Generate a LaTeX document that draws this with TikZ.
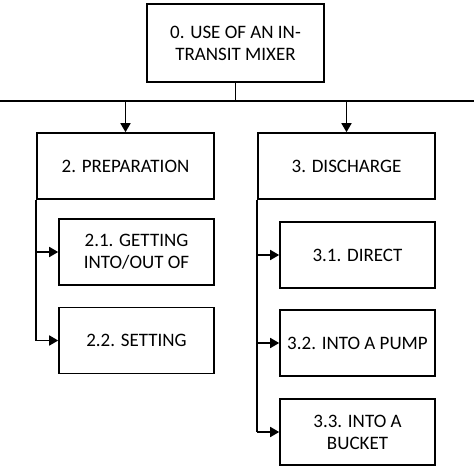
\documentclass[tikz,border=0pt]{standalone}
\usepackage{fontspec}
\setmainfont{Carlito}
\usetikzlibrary{arrows.meta}
\tikzset{
  box/.style={draw, line width=1.6pt, minimum width=177pt, minimum height=66pt, align=center, font=\fontsize{19}{22}\selectfont, inner sep=0pt},
  subbox/.style={box, minimum width=155pt},
  topbox/.style={box, line width=2.4pt, minimum height=78pt},
  conn/.style={line width=1.6pt},
  arr/.style={conn, -{Triangle[length=9pt,width=10pt]}}
}
\begin{document}
\begin{tikzpicture}[x=1pt,y=-1pt]
\useasboundingbox (0,0) rectangle (474,474);
\node[topbox] (top) at (235.5,43) {0. USE OF AN IN-\\TRANSIT MIXER};
\node[box] (p) at (125.5,166) {2. PREPARATION};
\node[box] (d) at (346.5,166) {3. DISCHARGE};
\node[subbox] (p1) at (136.5,252) {2.1. GETTING\\INTO/OUT OF};
\node[subbox] (p2) at (136.5,340.5) {2.2. SETTING};
\node[subbox] (d1) at (357.5,255) {3.1. DIRECT};
\node[subbox] (d2) at (357.5,343) {3.2. INTO A PUMP};
\node[subbox] (d3) at (357.5,432) {3.3. INTO A\\BUCKET};
\coordinate (hl) at (0,101);
\coordinate (hr) at (474,101);
\draw[conn] (hl) -- (hr);
\draw[conn] (top.south) -- (top.south |- hl);
\draw[arr] (p.north |- hl) -- (p.north);
\draw[arr] (d.north |- hl) -- (d.north);
\draw[conn] (p.south west) -- (p.south west |- p2.west);
\draw[arr] (p.south west |- p1.west) -- (p1.west);
\draw[arr] (p.south west |- p2.west) -- (p2.west);
\draw[conn] (d.south west) -- (d.south west |- d3.west);
\draw[arr] (d.south west |- d1.west) -- (d1.west);
\draw[arr] (d.south west |- d2.west) -- (d2.west);
\draw[arr] (d.south west |- d3.west) -- (d3.west);
\end{tikzpicture}
\end{document}
